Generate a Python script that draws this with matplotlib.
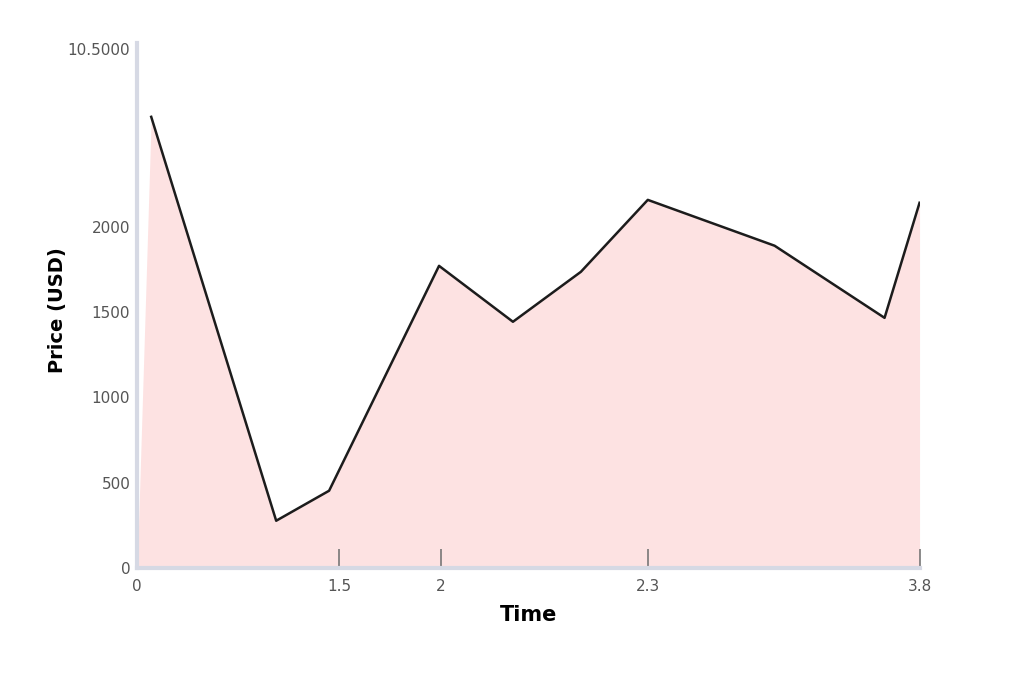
import matplotlib.pyplot as plt
import numpy as np

# data
time = [0.068, 0.675, 0.932, 1.466, 1.825, 2.155, 2.48, 3.096, 3.63, 3.8]
price = [2645, 276, 452, 1771, 1443, 1736, 2158, 1889, 1466, 2141]

x_ticks = [0, 0.98, 1.475, 2.48, 3.8]
x_labels = ["0", "1.5", "2", "2.3", "3.8"]
y_ticks = [0, 500, 1000, 1500, 2000, 3045]
y_labels = ["0", "500", "1000", "1500", "2000", "10.5000"]

fig = plt.figure(figsize=(10.24, 6.8), dpi=100)
ax = fig.add_axes([0.134, 0.165, 0.764, 0.772])

fill_x = [0] + time
fill_y = [0] + price
ax.fill_between(fill_x, fill_y, 0, color="#fde2e2", linewidth=0)
ax.plot(time, price, color="#1c1c1c", linewidth=1.8)

ax.set_xlim(0, 3.8)
ax.set_ylim(0, 3079)

ax.set_xticks(x_ticks, x_labels)
ax.set_yticks(y_ticks, y_labels)
ax.tick_params(axis="x", direction="in", length=14, width=1.2, color="#777777",
               labelsize=11, labelcolor="#555555", pad=8)
ax.tick_params(axis="y", length=0, labelsize=11, labelcolor="#555555", pad=5)

for side in ["top", "right"]:
    ax.spines[side].set_visible(False)
for side in ["left", "bottom"]:
    ax.spines[side].set_color("#d6d9e4")
    ax.spines[side].set_linewidth(3)

ax.set_xlabel("Time", fontsize=15, fontweight="bold", labelpad=8)
ax.set_ylabel("Price (USD)", fontsize=14, fontweight="bold")
ax.yaxis.set_label_coords(-0.09, 0.49)

fig.savefig("out.png", dpi=100)
